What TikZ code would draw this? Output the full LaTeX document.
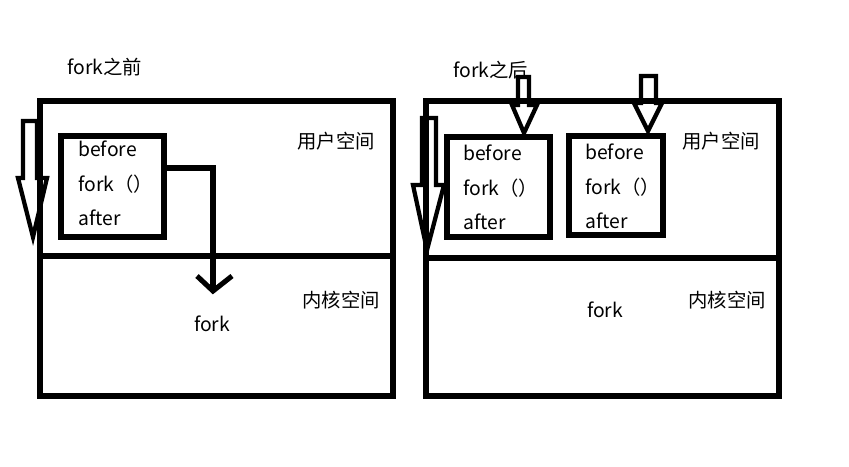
\documentclass[tikz,border=0pt]{standalone}
\usepackage{fontspec}
\setmainfont{Noto Sans CJK SC}
\begin{document}
\begin{tikzpicture}[x=0.75pt,y=-0.75pt,
  box/.style={draw=black,line width=3.8pt},
  ln/.style={draw=black,line width=3.8pt,line join=miter},
  hol/.style={draw=black,line width=3.2pt,line join=miter},
  txt/.style={font=\fontsize{14.5pt}{16pt}\selectfont,inner sep=0pt}]
\useasboundingbox (0,0) rectangle (849,467);
% left
\draw[box] (40,101) rectangle (393,256);
\draw[box] (40,256) rectangle (393,396);
\draw[box] (61,136) rectangle (164,237);
\node[txt,anchor=west] (b1) at (78,149) {before};
\node[txt,anchor=west] (f1) at (78,184) {fork（）};
\node[txt,anchor=west] (a1) at (78,218) {after};
\coordinate (c1) at (164,168);
\coordinate (c2) at (213,168);
\coordinate (c3) at (213,291);
\draw[ln] (c1) -- (c2) -- (c3);
\draw[ln] (197,276) -- (c3) -- (232,276);
\draw[hol] (23,121) -- (37,121) -- (37,178) -- (47,178) -- (33,237) -- (18,178) -- (23,178) -- cycle;
\node[txt] (t1) at (105,67) {fork之前};
\node[txt] (u1) at (336,141) {用户空间};
\node[txt] (k1) at (341,300) {内核空间};
\node[txt] (fk1) at (212,324) {fork};
% right
\draw[box] (426,101) rectangle (779,258);
\draw[box] (426,258) rectangle (779,396);
\draw[box] (447,137) rectangle (550,237);
\draw[box] (569,136) rectangle (663,235);
\node[txt,anchor=west] (b2) at (463,153) {before};
\node[txt,anchor=west] (f2) at (463,188) {fork（）};
\node[txt,anchor=west] (a2) at (463,222) {after};
\node[txt,anchor=west] (b3) at (585,152) {before};
\node[txt,anchor=west] (f3) at (585,187) {fork（）};
\node[txt,anchor=west] (a3) at (585,221) {after};
\draw[hol] (518,77) -- (529,77) -- (529,105) -- (537,105) -- (524,133) -- (512,105) -- (518,105) -- cycle;
\draw[hol] (641,76) -- (656,76) -- (656,103) -- (662,103) -- (648,131) -- (634,103) -- (641,103) -- cycle;
\draw[hol] (422,118) -- (436,118) -- (436,185) -- (444,185) -- (427,250) -- (413,185) -- (422,185) -- cycle;
\node[txt] (t2) at (491,70) {fork之后};
\node[txt] (u2) at (721,141) {用户空间};
\node[txt] (k2) at (727,300) {内核空间};
\node[txt] (fk2) at (605,310) {fork};
\end{tikzpicture}
\end{document}
